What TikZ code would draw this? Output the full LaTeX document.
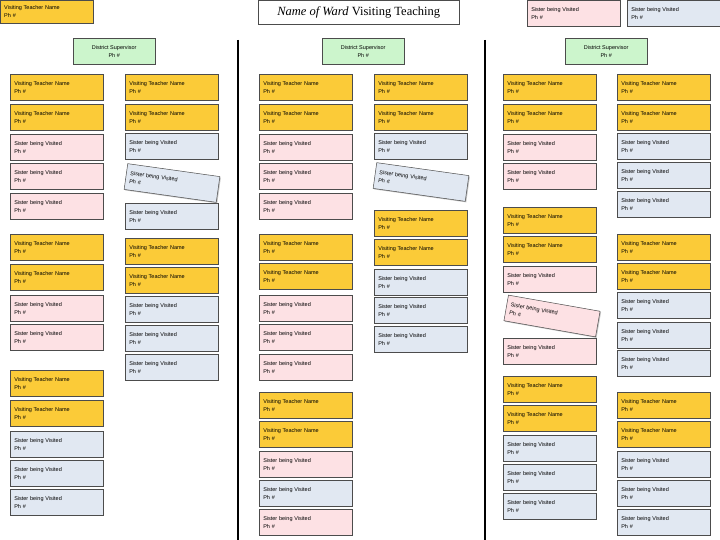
\documentclass[tikz,border=0pt]{standalone}
\usepackage{fontspec}
\setmainfont{Liberation Sans}
\newfontfamily\titlefont{Liberation Serif}
\definecolor{vt}{HTML}{FBCB38}
\definecolor{pk}{HTML}{FDE1E4}
\definecolor{bl}{HTML}{E1E8F2}
\definecolor{gr}{HTML}{CCF5CC}
\usetikzlibrary{shadows}
\tikzset{
 bx/.style={draw=black!70, line width=0.5pt, anchor=north west, minimum width=93pt, minimum height=26pt,
   inner sep=0pt, text width=85pt, align=left, font=\fontsize{5.5}{8}\selectfont,
   drop shadow={shadow xshift=1pt,shadow yshift=-1pt,fill=black!45}},
 vtb/.style={bx, fill=vt},
 pkb/.style={bx, fill=pk},
 blb/.style={bx, fill=bl},
 dsb/.style={draw=black!70, fill=gr, minimum width=82pt, minimum height=26pt, inner sep=0pt, align=center,
   font=\fontsize{5.5}{8}\selectfont, anchor=north west},
}
\newcommand{\vtt}{Visiting Teacher Name\\Ph \#}
\newcommand{\sbt}{Sister being Visited\\Ph \#}
\begin{document}
\begin{tikzpicture}[x=1pt,y=-1pt]
\useasboundingbox[fill=white] (0,0) rectangle (720,540);
% top
\node[vtb, minimum height=23pt] (topvt) at (0,0) {\vtt};
\node[draw=black!70, anchor=north west, minimum width=201pt, minimum height=24pt, font=\fontsize{12.5}{14}\selectfont\titlefont] (title) at (258,0) {\textit{Name of Ward} Visiting Teaching};
\node[pkb] (toppk) at (527,0) {\sbt};
\node[blb] (topbl) at (627,0) {\sbt};
% dividers
\coordinate (d1t) at (238,40); \coordinate (d1b) at (238,540);
\coordinate (d2t) at (485,40); \coordinate (d2b) at (485,540);
\draw[line width=1.2pt] (d1t) -- (d1b);
\draw[line width=1.2pt] (d2t) -- (d2b);
% supervisors
\node[dsb] (ds1) at (73,38) {District Supervisor\\Ph \#};
\node[dsb] (ds2) at (322,38) {District Supervisor\\Ph \#};
\node[dsb] (ds3) at (565,38) {District Supervisor\\Ph \#};
% columns
\foreach \cx/\lst in {
 10/{74/vtb,104/vtb,134/pkb,163/pkb,193/pkb,234/vtb,264/vtb,295/pkb,324/pkb,370/vtb,400/vtb,431/blb,460/blb,489/blb},
 125/{74/vtb,104/vtb,133/blb,203/blb,238/vtb,267/vtb,296/blb,325/blb,354/blb},
 259/{74/vtb,104/vtb,134/pkb,163/pkb,193/pkb,234/vtb,263/vtb,295/pkb,324/pkb,354/pkb,392/vtb,421/vtb,451/pkb,480/blb,509/pkb},
 374/{74/vtb,104/vtb,133/blb,210/vtb,239/vtb,269/blb,297/blb,326/blb},
 503/{74/vtb,104/vtb,134/pkb,163/pkb,207/vtb,236/vtb,266/pkb,338/pkb,376/vtb,405/vtb,435/blb,464/blb,493/blb},
 617/{74/vtb,104/vtb,133/blb,162/blb,191/blb,234/vtb,263/vtb,292/blb,322/blb,350/blb,392/vtb,421/vtb,451/blb,480/blb,509/blb}}
{
 \foreach \cy/\ty in \lst {
  \node[\ty] (b-\cx-\cy) at (\cx,\cy) {\ifnum\pdfstrcmp{\ty}{vtb}=0 \vtt\else\sbt\fi};
 }
}
% rotated
\node[blb, anchor=center, rotate=-8] (r1) at (172,183) {\sbt};
\node[blb, anchor=center, rotate=-8] (r2) at (421,182) {\sbt};
\node[pkb, anchor=center, rotate=-10] (r3) at (552,316) {\sbt};
\end{tikzpicture}
\end{document}
